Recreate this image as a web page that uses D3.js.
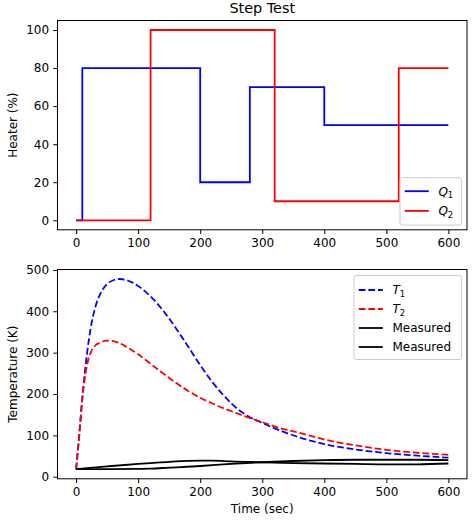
<!DOCTYPE html>
<html><head><meta charset="utf-8">
<script src="https://cdn.jsdelivr.net/npm/d3@7"></script>
<style>body{margin:0;background:#fff}svg{display:block;font-family:"DejaVu Sans",sans-serif}</style>
</head><body>
<script>
// ---- data ----
const heaterTime = [0, 10, 120, 200, 280, 320, 400, 520, 600];
const Q1 = [0, 80, 80, 20, 70, 70, 50, 50, 50];
const Q2 = [0, 0, 100, 100, 100, 10, 10, 80, 80];

const simTime = [0,5,10,15,20,25,30,40,50,60,70,80,90,100,120,140,160,180,200,220,240,260,280,300,330,360,400,450,500,550,600];
const T1 = [18,100,192,265,325,372,405,445,466,475,478,476,470,461,436,402,361,316,270,228,193,164,144,130,111,95,79,66,57,51,46];
const T2 = [18,100,188,248,285,305,316,325,329,328,323,315,306,296,273,250,228,208,191,177,164,153,142,132,117,106,90,76,65,58,53];

const measTime = [0,50,100,120,150,200,220,250,300,350,400,450,500,550,600];
const meas1 = [18.5,25,31,33,36,39,39,37,35,33,32,31,30,30,32];
const meas2 = [18.5,18.5,19,19.5,22,26,28,31,35,38,40,41,41,41,40];

const xTicks = [0,100,200,300,400,500,600];
const yTicksTop = [0,20,40,60,80,100];
const yTicksBot = [0,100,200,300,400,500];

const W = 474, H = 520;
const svg = d3.select("body").append("svg").attr("width", W).attr("height", H);
const L = 57.5, R = 467;
const top1 = 20.5, bot1 = 229.8, top2 = 269.5, bot2 = 478.8;
const FS = 12;

const x = d3.scaleLinear().domain([-30, 630]).range([L, R]);
const y1 = d3.scaleLinear().domain([-5, 105]).range([bot1, top1]);
const allT = T1.concat(T2, meas1, meas2);
const tmin = d3.min(allT), tmax = d3.max(allT), pad = (tmax - tmin) * 0.05;
const y2 = d3.scaleLinear().domain([tmin - pad, tmax + pad]).range([bot2, top2]);

function axes(yScale, yTicks, top, bot) {
  const g = svg.append("g");
  const xa = d3.axisBottom(x).tickValues(xTicks).tickSize(4.2).tickPadding(4.2).tickFormat(d3.format("d"));
  const gx = g.append("g").attr("transform", `translate(0,${bot})`).call(xa);
  const ya = d3.axisLeft(yScale).tickValues(yTicks).tickSize(4.2).tickPadding(4.2).tickFormat(d3.format("d"));
  const gy = g.append("g").attr("transform", `translate(${L},0)`).call(ya);
  [gx, gy].forEach(a => {
    a.select(".domain").remove();
    a.selectAll("text").attr("font-size", FS).attr("font-family", "DejaVu Sans").attr("fill", "#000");
    a.selectAll("line").attr("stroke", "#000").attr("stroke-width", 1);
  });
  gx.selectAll("text").attr("dy", "0.76em");
  return g;
}
function frame(top, bot) {
  svg.append("rect").attr("x", L).attr("y", top).attr("width", R - L).attr("height", bot - top)
    .attr("fill", "none").attr("stroke", "#000").attr("stroke-width", 1);
}

// ---- top plot ----
axes(y1, yTicksTop, top1, bot1);
const stepLine = d3.line().x(d => x(d[0])).y(d => y1(d[1])).curve(d3.curveStepAfter);
svg.append("path").datum(heaterTime.map((t, i) => [t, Q1[i]])).attr("d", stepLine)
  .attr("fill", "none").attr("stroke", "blue").attr("stroke-width", 1.8);
svg.append("path").datum(heaterTime.map((t, i) => [t, Q2[i]])).attr("d", stepLine)
  .attr("fill", "none").attr("stroke", "red").attr("stroke-width", 1.8);
frame(top1, bot1);

svg.append("text").attr("x", (L + R) / 2).attr("y", 12.7).attr("text-anchor", "middle")
  .attr("font-size", 14.4).text("Step Test");
svg.append("text").attr("transform", `translate(16.5,${(top1 + bot1) / 2}) rotate(-90)`)
  .attr("text-anchor", "middle").attr("font-size", FS).text("Heater (%)");

// ---- bottom plot ----
axes(y2, yTicksBot, top2, bot2);
const line2 = d3.line().x(d => x(d[0])).y(d => y2(d[1])).curve(d3.curveMonotoneX);
svg.append("path").datum(simTime.map((t, i) => [t, T1[i]])).attr("d", line2)
  .attr("fill", "none").attr("stroke", "blue").attr("stroke-width", 1.8).attr("stroke-dasharray", "6.7,2.9");
svg.append("path").datum(simTime.map((t, i) => [t, T2[i]])).attr("d", line2)
  .attr("fill", "none").attr("stroke", "red").attr("stroke-width", 1.8).attr("stroke-dasharray", "6.7,2.9");
svg.append("path").datum(measTime.map((t, i) => [t, meas1[i]])).attr("d", line2)
  .attr("fill", "none").attr("stroke", "black").attr("stroke-width", 1.8);
svg.append("path").datum(measTime.map((t, i) => [t, meas2[i]])).attr("d", line2)
  .attr("fill", "none").attr("stroke", "black").attr("stroke-width", 1.8);
frame(top2, bot2);

svg.append("text").attr("x", (L + R) / 2).attr("y", 513).attr("text-anchor", "middle")
  .attr("font-size", FS).text("Time (sec)");
svg.append("text").attr("transform", `translate(16.5,${(top2 + bot2) / 2}) rotate(-90)`)
  .attr("text-anchor", "middle").attr("font-size", FS).text("Temperature (K)");

// ---- legends ----
function legend(items, x0, y0, w, rowH, firstY) {
  const g = svg.append("g");
  const h = items.length * rowH + 8;
  g.append("rect").attr("x", x0).attr("y", y0).attr("width", w).attr("height", h).attr("rx", 2.5)
    .attr("fill", "#fff").attr("fill-opacity", 0.8).attr("stroke", "#ccc").attr("stroke-width", 1);
  items.forEach((it, i) => {
    const cy = y0 + firstY + i * rowH;
    g.append("line").attr("x1", x0 + 4.8).attr("x2", x0 + 28.8).attr("y1", cy).attr("y2", cy)
      .attr("stroke", it.color).attr("stroke-width", 1.8).attr("stroke-dasharray", it.dash || null);
    const t = g.append("text").attr("x", x0 + 38.4).attr("y", cy + 4.3).attr("font-size", FS);
    if (it.sub) {
      t.append("tspan").attr("font-style", "italic").text(it.label);
      t.append("tspan").attr("font-size", 8.4).attr("dy", 2.6).text(it.sub);
    } else {
      t.text(it.label);
    }
  });
}
legend([{label: "Q", sub: "1", color: "blue"}, {label: "Q", sub: "2", color: "red"}],
  400, 177.7, 61.5, 19.7, 13.5);
legend([{label: "T", sub: "1", color: "blue", dash: "6.7,2.9"}, {label: "T", sub: "2", color: "red", dash: "6.7,2.9"},
        {label: "Measured", color: "black"}, {label: "Measured", color: "black"}],
  354, 275.5, 107.5, 19, 14.5);
</script>
</body></html>
